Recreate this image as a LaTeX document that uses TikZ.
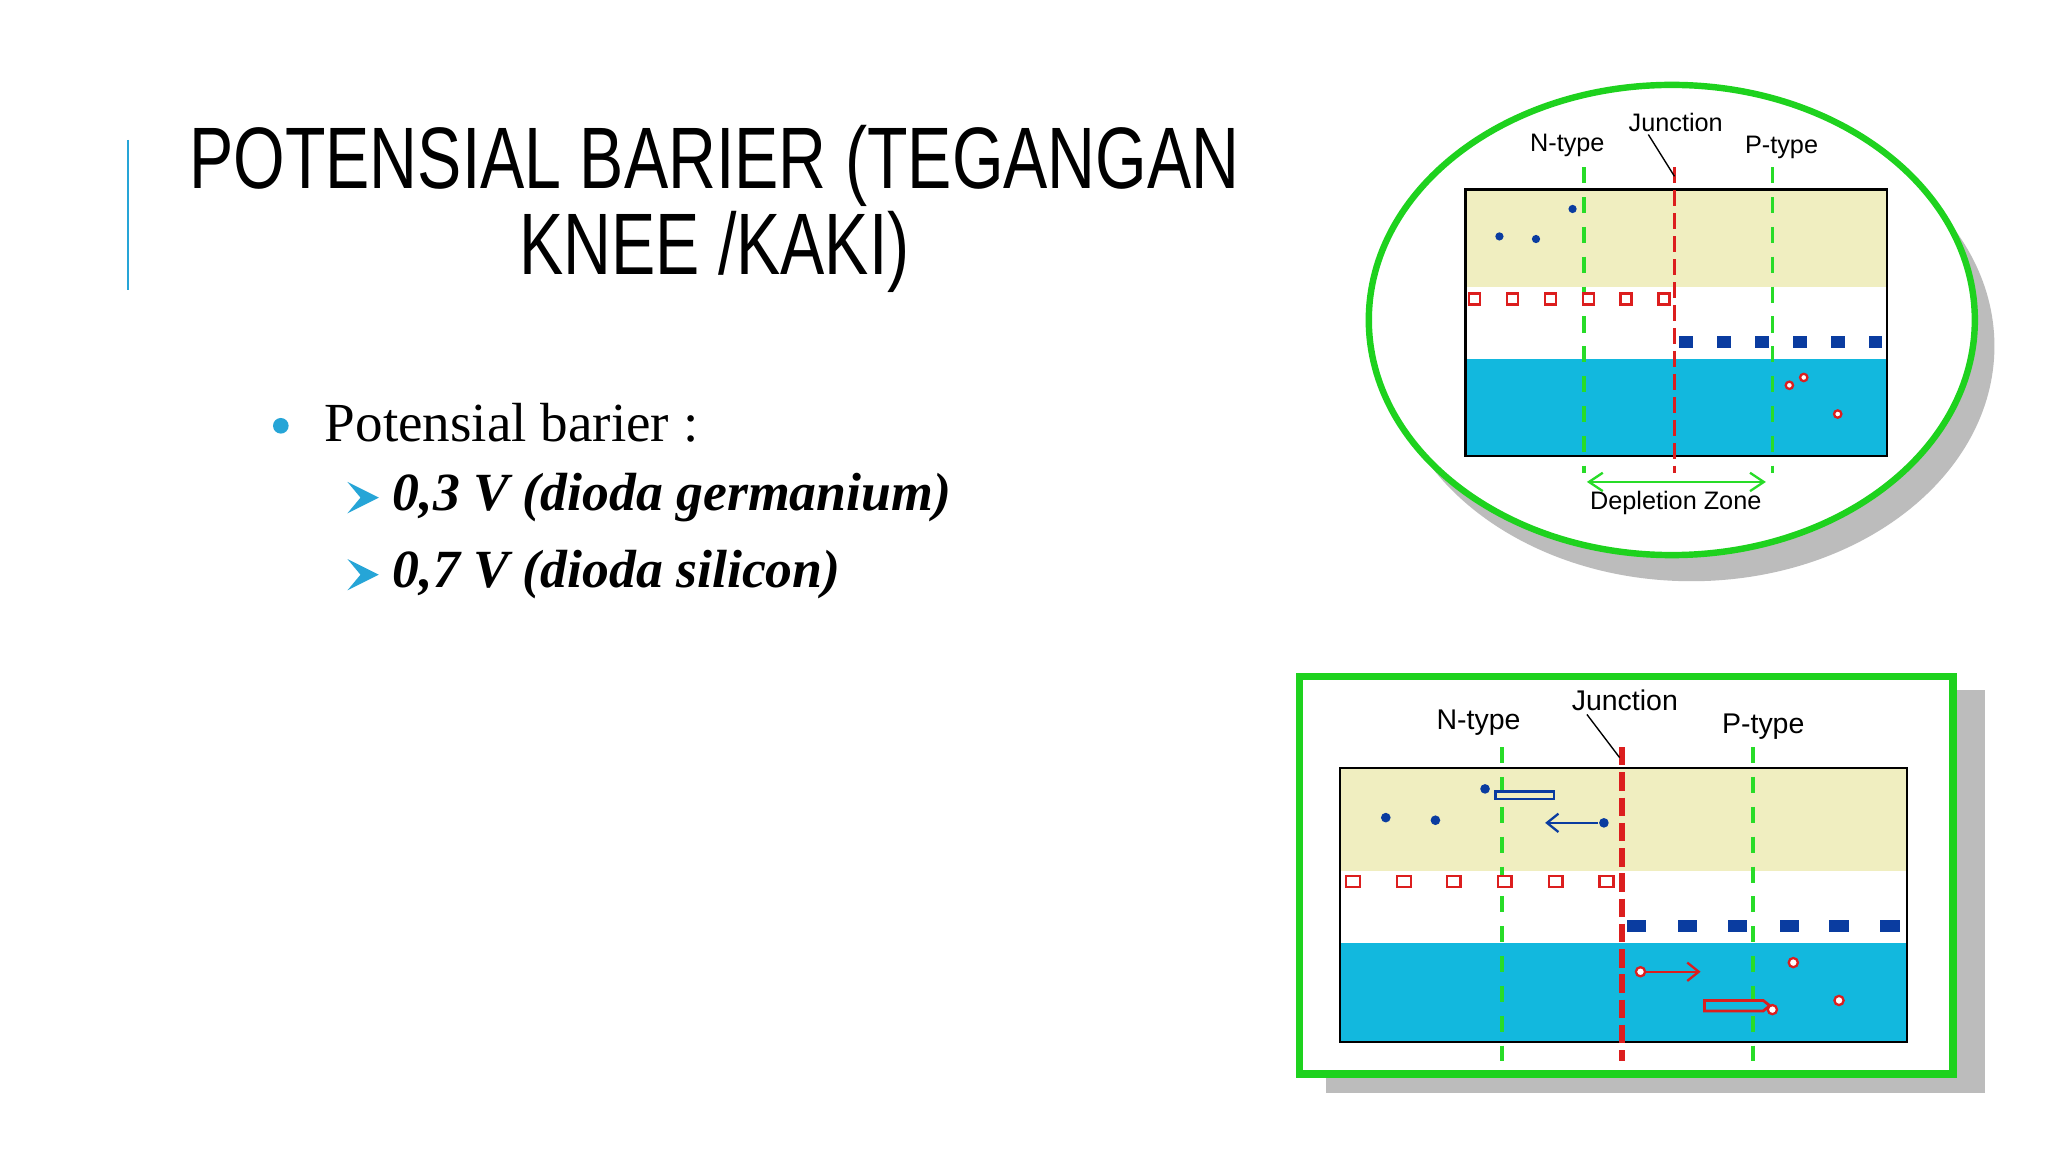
\documentclass[tikz,border=0pt]{standalone}
\usepackage{fontspec}
\setmainfont{Liberation Serif}
\newfontfamily\titlefont{Liberation Sans}
\newfontfamily\lblfont{Liberation Sans}
\usetikzlibrary{arrows.meta}
\definecolor{cyanb}{RGB}{38,165,215}
\definecolor{ylw}{RGB}{240,238,192}
\definecolor{pblue}{RGB}{18,184,222}
\definecolor{gr}{RGB}{30,210,30}
\definecolor{dgr}{RGB}{40,220,40}
\definecolor{rd}{RGB}{220,30,30}
\definecolor{bl}{RGB}{10,60,160}
\definecolor{shd}{RGB}{160,160,160}
\tikzset{
 gdash/.style={dgr,line width=0.8pt,dash pattern=on 3.5pt off 3pt},
 rdash/.style={rd,line width=0.5pt,dash pattern=on 3.5pt off 1.5pt},
 rsq/.style={draw=rd,line width=0.5pt,fill=white,minimum width=2.4pt,minimum height=2.4pt,inner sep=0pt},
 bsq/.style={fill=bl,minimum width=3pt,minimum height=2.6pt,inner sep=0pt},
 bdot/.style={circle,fill=bl,inner sep=0pt,minimum size=2.1pt},
 rcirc/.style={circle,draw=rd,line width=0.5pt,fill=white,inner sep=0pt,minimum size=2pt},
 lbl/.style={font=\lblfont\fontsize{5.5}{7}\selectfont,inner sep=1pt},
 lbl2/.style={font=\lblfont\fontsize{6.2}{8}\selectfont,inner sep=1pt},
}
\begin{document}
\begin{tikzpicture}[x=0.01cm,y=-0.01cm]
\useasboundingbox[fill=white] (0,0) rectangle (1568,882);
% title
\draw[cyanb,line width=0.6pt] (98,107) -- (98,222);
\node[font=\titlefont\fontsize{19}{14.5}\selectfont,xscale=0.76,align=center] (title) at (547,160) {POTENSIAL BARIER (TEGANGAN\\KNEE /KAKI)};
% bullets
\node[circle,fill=cyanb,inner sep=0pt,minimum size=3.4pt] (b1) at (215,326) {};
\node[anchor=base west,font=\fontsize{12}{14}\selectfont,inner sep=0pt] (t1) at (248,338) {Potensial barier :};
\foreach \yy/\tx [count=\i] in {381/{0,3 V (dioda germanium)},440/{0,7 V (dioda silicon)}}{
  \fill[cyanb] (266,\yy-12) -- (290,\yy) -- (266,\yy+12) -- (276,\yy) -- cycle;
  \node[anchor=base west,font=\bfseries\itshape\fontsize{11.7}{13}\selectfont,inner sep=0pt] (s\i) at (300,\yy+10) {\tx};
}
% diagram 1
\fill[shd!70] (1295,265) ellipse (232 and 180);
\filldraw[draw=gr,fill=white,line width=1.4pt] (1280,245) ellipse (232 and 180);
\fill[ylw] (1122,145) rectangle (1445,220);
\fill[pblue] (1122,275) rectangle (1445,349);
\draw[black,line width=0.5pt] (1122,145) rectangle (1445,349);
\draw[gdash] (1213,128) -- (1213,362);
\draw[gdash] (1357,128) -- (1357,362);
\draw[rdash] (1282,128) -- (1282,362);
\node[lbl] (n1) at (1200,111) {N-type};
\node[lbl] (j1) at (1283,94) {Junction};
\node[lbl] (p1) at (1364,113) {P-type};
\draw[black,line width=0.3pt] (1262,103) -- (1282,135);
\foreach \x in {1129,1158,1187,1216,1245,1274} \node[rsq] at (\x,229) {};
\foreach \x in {1291,1320,1349,1378,1407,1436} \node[bsq] at (\x,262) {};
\foreach \p in {(1204,160),(1148,181),(1176,183)} \node[bdot,minimum size=1.8pt] at \p {};
\foreach \p in {(1370,295),(1381,289),(1407,317)} \node[rcirc,minimum size=1.6pt] at \p {};
\coordinate (dl) at (1215,369); \coordinate (dr) at (1352,369);
\draw[dgr,line width=0.5pt,{Straight Barb[length=3pt,width=4pt]}-{Straight Barb[length=3pt,width=4pt]}] (dl) -- (dr);
\node[lbl] (dz) at (1283,385) {Depletion Zone};
% diagram 2
\fill[shd!70] (1015,528) rectangle (1520,837);
\filldraw[draw=gr,fill=white,line width=1.7pt] (995,518) rectangle (1495,822);
\fill[ylw] (1026,588) rectangle (1460,667);
\fill[pblue] (1026,722) rectangle (1460,798);
\draw[black,line width=0.5pt] (1026,588) rectangle (1460,798);
\draw[gdash] (1150,572) -- (1150,812);
\draw[gdash] (1342,572) -- (1342,812);
\draw[rd,line width=1.2pt,dash pattern=on 4pt off 1.5pt] (1242,572) -- (1242,812);
\node[lbl2] (n2) at (1132,553) {N-type};
\node[lbl2] (j2) at (1244,536) {Junction};
\node[lbl2] (p2) at (1350,556) {P-type};
\draw[black,line width=0.3pt] (1215,547) -- (1240,580);
\foreach \x in {1036,1075,1113,1152,1191,1230} \node[rsq,minimum width=3pt] at (\x,675) {};
\foreach \x in {1253,1292,1330,1370,1408,1447} \node[bsq,minimum width=4.2pt] at (\x,709) {};
\node[bdot] (e1) at (1137,604) {};
\node[bdot] at (1061,626) {};
\node[bdot] at (1099,628) {};
\node[bdot] (e2) at (1228,630) {};
\coordinate (a2) at (1183,630);
\draw[bl,line width=0.5pt,-{Straight Barb[length=2.5pt,width=4pt]}] (e2) -- (a2);
\draw[bl,line width=0.5pt] (1190,606) -- (1145,606) -- (1145,612) -- (1190,612) -- cycle;
\node[rcirc] (h1) at (1256,744) {};
\coordinate (a3) at (1302,744);
\draw[rd,line width=0.5pt,-{Straight Barb[length=2.5pt,width=4pt]}] (h1) -- (a3);
\draw[rd,line width=0.6pt] (1305,766) -- (1350,766) -- (1355,770) -- (1350,774) -- (1305,774) -- cycle;
\node[rcirc] at (1357,773) {};
\node[rcirc] at (1373,737) {};
\node[rcirc] at (1408,766) {};
\end{tikzpicture}
\end{document}
